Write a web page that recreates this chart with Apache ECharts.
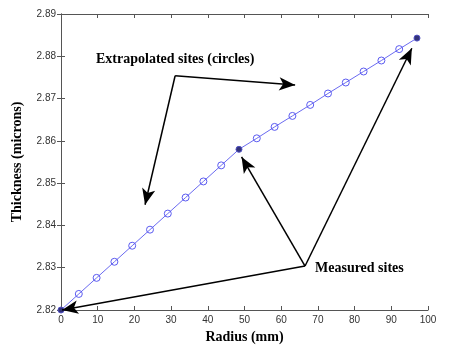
<!DOCTYPE html>
<html>
<head>
<meta charset="utf-8">
<script src="https://cdn.jsdelivr.net/npm/echarts@6/dist/echarts.min.js"></script>
<style>
  html, body { margin: 0; padding: 0; background: #fff; }
  #chart { width: 474px; height: 351px; }
</style>
</head>
<body>
<div id="chart"></div>
<script>
const radius = [0, 4.85, 9.7, 14.55, 19.4, 24.25, 29.1, 33.95, 38.8, 43.65, 48.5,
  53.35, 58.2, 63.05, 67.9, 72.75, 77.6, 82.45, 87.3, 92.15, 97.0];
const thickness = [2.8200, 2.8238, 2.8276, 2.8314, 2.8352, 2.8390, 2.8428, 2.8466, 2.8504, 2.8542, 2.8580,
  2.8606, 2.8633, 2.8659, 2.8685, 2.8712, 2.8738, 2.8764, 2.8790, 2.8817, 2.8843];
const measuredIdx = [0, 10, 20];

// arrows: [from, to] in data coordinates
const extrapArrows = [
  [[31.1, 2.8754], [22.9, 2.8449]],
  [[31.1, 2.8754], [63.8, 2.8732]],
];
const measuredArrows = [
  [[66.5, 2.8304], [49.2, 2.8562]],
  [[66.5, 2.8304], [0.3, 2.8200]],
  [[66.5, 2.8304], [95.6, 2.8819]],
];

const chart = echarts.init(document.getElementById("chart"));

const axisColor = "#555";
const labelFont = { color: "#333", fontSize: 10, fontFamily: "Liberation Sans" };
const nameFont = { color: "#000", fontSize: 14, fontWeight: "bold", fontFamily: "Liberation Serif" };

const points = radius.map((r, i) => {
  if (measuredIdx.includes(i)) {
    return { value: [r, thickness[i]], symbolSize: 6, itemStyle: { color: "#33337a", borderColor: "#5050c0" } };
  }
  return [r, thickness[i]];
});

const arrowLines = extrapArrows.concat(measuredArrows).map(([a, b]) => [{ coord: a }, { coord: b }]);

chart.setOption({
  animation: false,
  grid: { left: 61, right: 46, top: 14, bottom: 41 },
  xAxis: [
    {
      type: "value", min: 0, max: 100, interval: 10,
      name: "Radius (mm)", nameLocation: "middle", nameGap: 17, nameTextStyle: nameFont,
      axisLine: { lineStyle: { color: axisColor } },
      axisTick: { inside: true, length: 4, lineStyle: { color: axisColor } },
      axisLabel: Object.assign({ margin: 5 }, labelFont),
      splitLine: { show: false },
    },
    {
      type: "value", min: 0, max: 100, interval: 10, position: "top",
      axisLine: { lineStyle: { color: axisColor } },
      axisTick: { inside: true, length: 4, lineStyle: { color: axisColor } },
      axisLabel: { show: false },
      splitLine: { show: false },
    },
  ],
  yAxis: [
    {
      type: "value", min: 2.82, max: 2.89, interval: 0.01,
      name: "Thickness (microns)", nameLocation: "middle", nameGap: 37, nameTextStyle: nameFont,
      axisLine: { show: true, lineStyle: { color: axisColor } },
      axisTick: { show: true, inside: true, length: 4, lineStyle: { color: axisColor } },
      axisLabel: Object.assign({ margin: 5, formatter: (v) => v.toFixed(2) }, labelFont),
      splitLine: { show: false },
    },
    {
      type: "value", min: 2.82, max: 2.89, interval: 0.01, position: "right",
      axisLine: { show: true, lineStyle: { color: axisColor } },
      axisTick: { show: true, inside: true, length: 4, lineStyle: { color: axisColor } },
      axisLabel: { show: false },
      splitLine: { show: false },
    },
  ],
  series: [
    {
      type: "line",
      data: points,
      symbol: "circle",
      symbolSize: 7,
      lineStyle: { color: "#6a6af0", width: 1 },
      itemStyle: { color: "transparent", borderColor: "#5a5af0", borderWidth: 1 },
      markLine: {
        silent: true,
        symbol: ["none", "arrow"],
        symbolSize: [10, 16],
        label: { show: false },
        lineStyle: { color: "#000", width: 1.5, type: "solid" },
        data: arrowLines,
      },
    },
  ],
  graphic: [
    {
      type: "text", left: 96, top: 52,
      style: { text: "Extrapolated sites (circles)", fill: "#000", font: "bold 14px 'Liberation Serif'" },
    },
    {
      type: "text", left: 315, top: 261,
      style: { text: "Measured sites", fill: "#000", font: "bold 14px 'Liberation Serif'" },
    },
  ],
});
</script>
</body>
</html>
